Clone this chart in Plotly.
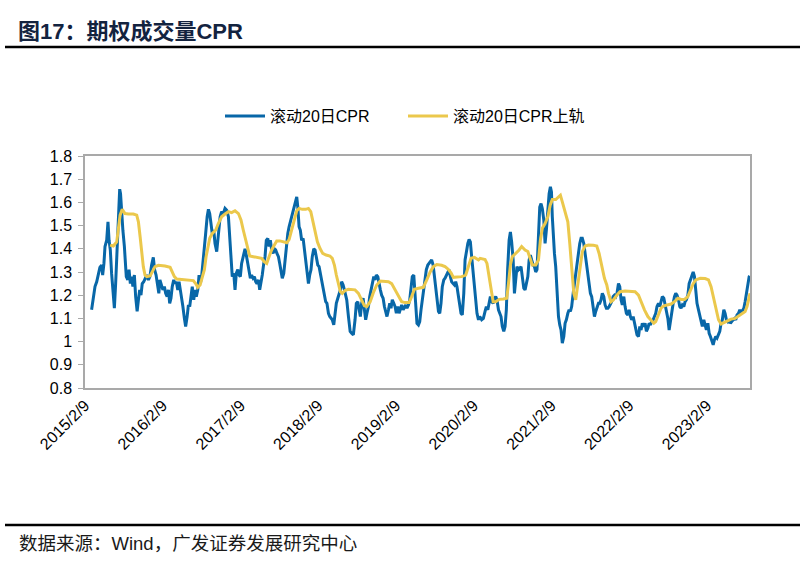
import pandas as pd
import plotly.graph_objects as go

# ---------------- data ----------------
origin = "2015-02-09"          # first day of the axis
axis_end_day = 3125            # last day shown (days after origin)

tick_labels = ["2015/2/9", "2016/2/9", "2017/2/9", "2018/2/9", "2019/2/9",
               "2020/2/9", "2021/2/9", "2022/2/9", "2023/2/9"]

# 滚动20日CPR  (days after origin, value)
cpr_day = [
    31, 39, 47, 55, 63, 70, 78, 83, 89, 94, 102, 108, 113, 119, 125, 131, 138, 144, 151, 157,
    163, 167, 172, 178, 185, 190, 194, 201, 207, 213, 219, 225, 232, 238, 245, 251, 257, 263, 269, 276,
    282, 290, 298, 305, 313, 321, 327, 334, 340, 347, 352, 360, 366, 373, 379, 386, 392, 398, 404, 410,
    417, 423, 429, 436, 442, 448, 454, 460, 467, 473, 480, 486, 492, 498, 504, 511, 517, 523, 530, 536,
    542, 548, 554, 561, 567, 574, 580, 586, 592, 598, 605, 611,
    619, 627, 635, 642, 650, 658, 666, 674, 680, 686, 692, 699, 705, 711, 718, 724, 730, 736, 744, 752,
    758, 765, 771, 777, 783, 790, 796, 802, 808, 815, 821, 827, 833, 840, 846, 852, 859, 865, 871, 877,
    884, 890, 896, 902, 909, 915, 921, 927, 934, 940, 946, 953, 959, 965, 971, 978, 984, 990, 995, 1000,
    1006, 1012, 1018, 1025, 1031, 1037, 1043, 1050, 1056, 1062, 1068, 1075, 1081, 1087, 1094, 1100, 1106, 1112, 1119, 1125,
    1131, 1137, 1144, 1150, 1156, 1162, 1169, 1175, 1181, 1188, 1194, 1200, 1206, 1213, 1219, 1225,
    1230, 1238, 1246, 1253, 1261, 1269, 1275, 1282, 1288, 1294, 1300, 1307, 1313, 1319, 1325, 1332, 1338, 1344, 1350, 1357,
    1363, 1369, 1376, 1382, 1388, 1394, 1401, 1407, 1413, 1419, 1426, 1432, 1438, 1444, 1451, 1457, 1463, 1470, 1476, 1482,
    1488, 1495, 1501, 1507, 1513, 1520, 1526, 1532, 1538, 1545, 1549, 1554, 1560, 1567, 1573, 1579, 1585, 1592, 1598, 1604,
    1611, 1617, 1623, 1629, 1636, 1642, 1648, 1654, 1661, 1667, 1673, 1679, 1686, 1692, 1698, 1705, 1711, 1717, 1723, 1730,
    1736, 1742, 1748, 1755, 1761, 1767, 1773, 1780, 1786, 1792, 1799, 1805, 1811, 1817, 1824, 1830, 1836, 1842, 1849, 1855,
    1864, 1872, 1880, 1886, 1893, 1899, 1905, 1911, 1918, 1924, 1930, 1936, 1943, 1949, 1955, 1961, 1968, 1974, 1980, 1986,
    1993, 1999, 2005, 2012, 2018, 2024, 2030, 2037, 2043, 2049, 2055, 2062, 2068, 2074, 2081, 2087, 2093, 2099, 2106, 2112,
    2118, 2124, 2131, 2137, 2143, 2149, 2156, 2162, 2168, 2175, 2181, 2187, 2192, 2196, 2201, 2206, 2212, 2218, 2225, 2231,
    2237, 2243, 2250, 2256, 2262, 2269, 2275, 2281, 2287, 2294, 2300, 2306, 2312, 2319, 2325, 2331, 2337, 2344, 2350, 2356,
    2363, 2369, 2375, 2381, 2388, 2394, 2400, 2406, 2413, 2419, 2425, 2431, 2438, 2444, 2450, 2457, 2463,
    2475, 2482, 2488, 2494, 2500, 2507, 2513, 2519, 2525, 2532, 2538, 2544, 2551, 2557, 2563, 2569, 2576, 2582, 2588, 2594,
    2601, 2607, 2613, 2619, 2626, 2632, 2638, 2645, 2651, 2657, 2663, 2670, 2676, 2682, 2688, 2695, 2701, 2707, 2713, 2720,
    2726, 2732, 2739, 2745, 2751, 2757, 2764, 2770, 2776, 2782, 2789, 2795, 2801, 2807, 2814, 2820, 2826, 2833, 2839, 2845,
    2851, 2858, 2864, 2870, 2876, 2883, 2889, 2895, 2901, 2908, 2914, 2920, 2927, 2933, 2939, 2945, 2952, 2958, 2964, 2970,
    2977, 2983, 2989, 2995, 3002, 3008, 3014, 3021, 3027, 3033, 3039, 3046, 3052, 3058, 3064, 3071, 3077, 3083, 3089, 3096,
    3102, 3108, 3115, 3121, 3124,
]
cpr_val = [
    1.137, 1.18, 1.237, 1.258, 1.30, 1.32, 1.33, 1.287, 1.337, 1.41, 1.437, 1.516, 1.437, 1.395, 1.294, 1.208, 1.144, 1.25, 1.42, 1.595,
    1.657, 1.638, 1.552, 1.48, 1.41, 1.35, 1.28, 1.266, 1.31, 1.25, 1.28, 1.237, 1.287, 1.194, 1.13, 1.18, 1.223, 1.20, 1.25, 1.258,
    1.273, 1.287, 1.266, 1.28, 1.33, 1.363, 1.31, 1.287, 1.25, 1.208, 1.266, 1.244, 1.223, 1.237, 1.208, 1.194, 1.223, 1.165, 1.187, 1.237,
    1.266, 1.25, 1.258, 1.223, 1.258, 1.223, 1.194, 1.151, 1.10, 1.065, 1.108, 1.158, 1.151, 1.194, 1.237, 1.18, 1.223, 1.194, 1.223, 1.287,
    1.25, 1.28, 1.33, 1.395, 1.466, 1.538, 1.57, 1.552, 1.509, 1.466, 1.48, 1.423,
    1.388, 1.466, 1.538, 1.56, 1.552, 1.574, 1.566, 1.538, 1.452, 1.352, 1.28, 1.294, 1.223, 1.294, 1.31, 1.287, 1.28, 1.337, 1.366, 1.40,
    1.373, 1.337, 1.31, 1.273, 1.287, 1.273, 1.28, 1.258, 1.25, 1.266, 1.223, 1.25, 1.287, 1.337, 1.366, 1.437, 1.445, 1.41, 1.437, 1.395,
    1.38, 1.40, 1.395, 1.38, 1.366, 1.337, 1.31, 1.273, 1.294, 1.352, 1.41, 1.466, 1.495, 1.516, 1.538, 1.56, 1.588, 1.61, 1.624, 1.58,
    1.495, 1.48, 1.437, 1.445, 1.395, 1.352, 1.294, 1.25, 1.287, 1.31, 1.366, 1.40, 1.395, 1.366, 1.33, 1.323, 1.294, 1.266, 1.223, 1.194,
    1.172, 1.165, 1.122, 1.108, 1.10, 1.094, 1.072, 1.122, 1.165, 1.187, 1.208, 1.223, 1.258, 1.244, 1.223, 1.194,
    1.18, 1.108, 1.044, 1.036, 1.029, 1.094, 1.165, 1.172, 1.137, 1.108, 1.165, 1.187, 1.137, 1.094, 1.122, 1.151, 1.194, 1.223, 1.25, 1.28,
    1.266, 1.287, 1.28, 1.258, 1.223, 1.20, 1.187, 1.151, 1.122, 1.108, 1.137, 1.165, 1.144, 1.18, 1.165, 1.151, 1.122, 1.151, 1.122, 1.144,
    1.158, 1.137, 1.151, 1.158, 1.144, 1.158, 1.18, 1.237, 1.28, 1.287, 1.223, 1.122, 1.079, 1.072, 1.086, 1.137, 1.18, 1.223, 1.25, 1.31,
    1.33, 1.337, 1.344, 1.352, 1.33, 1.28, 1.223, 1.165, 1.13, 1.122, 1.165, 1.237, 1.266, 1.273, 1.287, 1.30, 1.31, 1.28, 1.258, 1.25,
    1.244, 1.258, 1.237, 1.194, 1.165, 1.122, 1.115, 1.208, 1.352, 1.395, 1.423, 1.44, 1.43, 1.366, 1.294, 1.237, 1.18, 1.122, 1.094, 1.108,
    1.094, 1.10, 1.13, 1.151, 1.137, 1.165, 1.194, 1.172, 1.165, 1.187, 1.194, 1.18, 1.137, 1.122, 1.108, 1.065, 1.044, 1.065, 1.137, 1.31,
    1.437, 1.473, 1.43, 1.352, 1.208, 1.266, 1.323, 1.31, 1.316, 1.323, 1.28, 1.23, 1.223, 1.25, 1.28, 1.352, 1.373, 1.352, 1.33, 1.323,
    1.30, 1.31, 1.466, 1.58, 1.595, 1.574, 1.524, 1.423, 1.48, 1.58, 1.638, 1.667, 1.645, 1.538, 1.452, 1.38, 1.323, 1.208, 1.108, 1.072,
    1.05, 0.993, 1.022, 1.079, 1.094, 1.122, 1.137, 1.13, 1.151, 1.208, 1.25, 1.294, 1.352, 1.395, 1.423, 1.445, 1.445, 1.423, 1.38, 1.352,
    1.28, 1.237, 1.208, 1.194, 1.151, 1.108, 1.13, 1.151, 1.165, 1.165, 1.18, 1.208, 1.194, 1.158, 1.144, 1.144, 1.151,
    1.172, 1.194, 1.20, 1.194, 1.208, 1.25, 1.237, 1.18, 1.158, 1.194, 1.151, 1.122, 1.115, 1.137, 1.108, 1.094, 1.108, 1.079, 1.05, 1.029,
    1.022, 1.065, 1.05, 1.079, 1.065, 1.079, 1.044, 1.058, 1.079, 1.072, 1.086, 1.094, 1.108, 1.122, 1.151, 1.165, 1.151, 1.18, 1.194, 1.187,
    1.158, 1.122, 1.10, 1.05, 1.094, 1.137, 1.165, 1.194, 1.208, 1.20, 1.18, 1.151, 1.144, 1.158, 1.151, 1.172, 1.18, 1.20, 1.25, 1.266,
    1.28, 1.30, 1.28, 1.223, 1.165, 1.137, 1.108, 1.079, 1.065, 1.094, 1.065, 1.05, 1.079, 1.036, 1.022, 1.00, 0.986, 1.008, 1.022, 1.015,
    1.036, 1.044, 1.079, 1.094, 1.137, 1.122, 1.094, 1.086, 1.094, 1.079, 1.086, 1.094, 1.10, 1.094, 1.115, 1.122, 1.137, 1.122, 1.13, 1.144,
    1.172, 1.208, 1.25, 1.28, 1.283,
]

# 滚动20日CPR上轨  (days after origin, value)
upper_day = [
    118, 133, 149, 157, 165, 175, 188, 204, 227, 243, 251, 259, 266, 274, 282, 290, 306, 313, 329, 345,
    376, 400, 410, 420, 431, 454, 486, 509, 520, 530, 541, 551, 561, 569, 577, 586, 598, 614,
    627, 642, 658, 674, 689, 705, 721, 733, 744, 755, 765, 774, 791, 815, 830, 843, 854, 865, 877, 890,
    901, 916, 932, 948, 959, 971, 984, 995, 1006, 1021, 1037, 1050, 1061, 1070, 1081, 1092, 1104, 1117, 1133, 1151,
    1162, 1172, 1181, 1191, 1200, 1209, 1222, 1238,
    1246, 1269, 1285, 1300, 1313, 1324, 1340, 1355, 1371, 1387, 1402, 1426, 1441, 1457, 1473, 1488, 1504, 1523, 1535, 1548,
    1567, 1590, 1606, 1622, 1637, 1653, 1676, 1692, 1708, 1720, 1731, 1747, 1770, 1789, 1802, 1814, 1830, 1849,
    1857, 1880, 1889, 1899, 1908, 1918, 1930, 1946, 1966, 1982, 1990, 1999, 2008, 2024, 2040, 2052, 2068, 2081, 2092, 2102,
    2118, 2131, 2140, 2149, 2162, 2175, 2186, 2196, 2212, 2225, 2234, 2243, 2256, 2269, 2278, 2287, 2297, 2306, 2316, 2327,
    2337, 2350, 2366, 2389, 2405, 2416, 2428, 2441, 2452,
    2460, 2472, 2483, 2499, 2514, 2538, 2562, 2585, 2601, 2616, 2629, 2645, 2660, 2673, 2682, 2695, 2707, 2720, 2739, 2754,
    2770, 2786, 2801, 2817, 2833, 2845, 2858, 2870, 2891, 2914, 2930, 2942, 2953, 2964, 2977, 2989, 3002, 3017, 3036, 3055,
    3071, 3089, 3102, 3111, 3121, 3125,
]
upper_val = [
    1.416, 1.412, 1.43, 1.495, 1.545, 1.57, 1.552, 1.55, 1.55, 1.545, 1.516, 1.452, 1.38, 1.323, 1.287, 1.28, 1.283, 1.297, 1.323, 1.329,
    1.326, 1.32, 1.30, 1.28, 1.27, 1.268, 1.266, 1.263, 1.25, 1.234, 1.244, 1.273, 1.31, 1.366, 1.41, 1.445, 1.466, 1.48,
    1.51, 1.538, 1.55, 1.56, 1.556, 1.564, 1.552, 1.524, 1.48, 1.437, 1.395, 1.369, 1.366, 1.363, 1.359, 1.344, 1.337, 1.366, 1.395, 1.416,
    1.434, 1.434, 1.43, 1.426, 1.44, 1.48, 1.53, 1.564, 1.574, 1.57, 1.57, 1.574, 1.56, 1.524, 1.473, 1.43, 1.402, 1.38, 1.373, 1.369,
    1.359, 1.33, 1.287, 1.25, 1.215, 1.208, 1.22, 1.226,
    1.226, 1.223, 1.208, 1.18, 1.154, 1.151, 1.172, 1.211, 1.244, 1.261, 1.261, 1.258, 1.25, 1.223, 1.194, 1.172, 1.168, 1.168, 1.194, 1.226,
    1.23, 1.234, 1.266, 1.30, 1.323, 1.332, 1.329, 1.323, 1.311, 1.297, 1.277, 1.277, 1.28, 1.287, 1.323, 1.359, 1.363, 1.352,
    1.359, 1.354, 1.337, 1.28, 1.223, 1.172, 1.172, 1.182, 1.184, 1.187, 1.25, 1.33, 1.366, 1.38, 1.395, 1.41, 1.395, 1.388, 1.352, 1.33,
    1.33, 1.352, 1.437, 1.488, 1.509, 1.538, 1.588, 1.612, 1.612, 1.624, 1.631, 1.602, 1.56, 1.516, 1.423, 1.323, 1.208, 1.18, 1.25, 1.33,
    1.388, 1.412, 1.416, 1.415, 1.412, 1.38, 1.323, 1.273, 1.244,
    1.208, 1.172, 1.18, 1.20, 1.215, 1.218, 1.218, 1.215, 1.20, 1.165, 1.137, 1.108, 1.091, 1.079, 1.086, 1.115, 1.144, 1.154, 1.157, 1.162,
    1.172, 1.187, 1.182, 1.182, 1.194, 1.223, 1.25, 1.266, 1.273, 1.272, 1.266, 1.237, 1.187, 1.137, 1.094, 1.076, 1.082, 1.091, 1.097, 1.10,
    1.111, 1.122, 1.13, 1.151, 1.194, 1.208,
]

series_names = ["滚动20日CPR", "滚动20日CPR上轨"]
title_text = "图17：期权成交量CPR"
source_text = "数据来源：Wind，广发证券发展研究中心"

# ---------------- layout geometry (pixels) ----------------
W, H = 800, 570
L, R, T, B = 85, 50, 156, 182
PW, PH = W - L - R, H - T - B


def xp(px):
    return (px - L) / PW


def yp(py):
    return (H - B - py) / PH


o = pd.Timestamp(origin)
cpr_x = o + pd.to_timedelta(cpr_day, unit="D")
upper_x = o + pd.to_timedelta(upper_day, unit="D")
tick_vals = pd.to_datetime(tick_labels, format="%Y/%m/%d")

FONT = "'Liberation Sans', Arial, 'Noto Sans CJK SC', sans-serif"
BLUE = "#0867a8"
YELLOW = "#ebc84c"
AXIS = "#a9a9a9"

fig = go.Figure()
fig.add_trace(go.Scatter(x=cpr_x, y=cpr_val, mode="lines", name=series_names[0],
                         line=dict(color=BLUE, width=3)))
fig.add_trace(go.Scatter(x=upper_x, y=upper_val, mode="lines", name=series_names[1],
                         line=dict(color=YELLOW, width=3)))

fig.update_layout(
    width=W, height=H,
    margin=dict(l=L, r=R, t=T, b=B, pad=0),
    paper_bgcolor="white", plot_bgcolor="white",
    font=dict(family=FONT, color="#000000", size=16),
    title=dict(text="<b>" + title_text + "</b>", x=18 / W, xanchor="left",
               y=1 - 31 / H, yanchor="middle", yref="container",
               font=dict(size=22, color="#13233f", family=FONT)),
    showlegend=True,
    legend=dict(orientation="h", x=xp(220), xanchor="left", y=yp(116), yanchor="middle",
                font=dict(size=16, family=FONT, color="#000000"),
                bgcolor="rgba(0,0,0,0)", borderwidth=0, entrywidth=128, itemwidth=40),
    xaxis=dict(type="date", range=[o, o + pd.Timedelta(days=axis_end_day)],
               tickvals=tick_vals, ticktext=tick_labels, tickangle=-45,
               ticks="", showgrid=False, zeroline=False,
               showline=True, mirror=True, linecolor=AXIS, linewidth=1.5,
               tickfont=dict(size=16, family=FONT, color="#000000")),
    yaxis=dict(range=[0.8, 1.8], dtick=0.1, tick0=0.8,
               ticks="outside", ticklen=5, tickcolor=AXIS, tickwidth=1,
               ticklabelstandoff=3,
               showgrid=False, zeroline=False,
               showline=True, mirror=True, linecolor=AXIS, linewidth=1.5,
               tickfont=dict(size=16, family=FONT, color="#000000")),
    shapes=[
        dict(type="line", xref="paper", yref="paper", x0=xp(5), x1=xp(800), y0=yp(47), y1=yp(47),
             line=dict(color="#000000", width=2.5)),
        dict(type="line", xref="paper", yref="paper", x0=xp(5), x1=xp(800), y0=yp(525), y1=yp(525),
             line=dict(color="#000000", width=2.5)),
    ],
    annotations=[
        dict(text=source_text, xref="paper", yref="paper", x=xp(17), y=yp(543),
             xanchor="left", yanchor="middle", showarrow=False,
             font=dict(size=18.5, family=FONT, color="#1a1a1a")),
    ],
)

fig.write_html("out.html")
